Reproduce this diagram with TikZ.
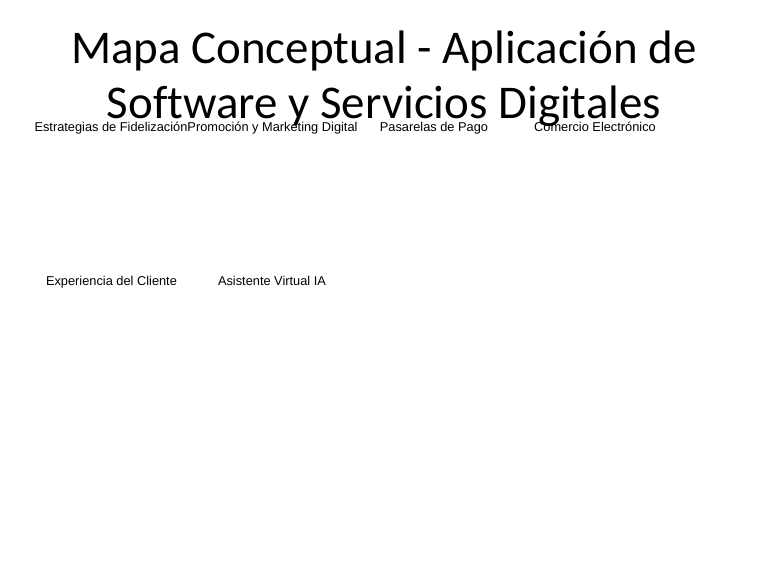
\documentclass[tikz,border=0pt]{standalone}
\usepackage{fontspec}
\setmainfont{Liberation Sans}
\newfontfamily\titlefont[Ligatures=NoCommon]{Carlito}
\begin{document}
\begin{tikzpicture}[x=0.9375pt,y=-0.9375pt,
	concept/.style={anchor=base,inner sep=0pt,font=\fontsize{12}{14}\selectfont},
	maptitle/.style={anchor=base,align=center,inner sep=0pt,font=\titlefont\fontsize{44}{52}\selectfont}]
		\useasboundingbox (0,0) rectangle (768,576);
		\node[maptitle] (titulo) at (384,119) {Mapa Conceptual - Aplicación de\\Software y Servicios Digitales};
		\node[concept] (estrategias) at (111,132) {Estrategias de Fidelización};
		\node[concept] (promocion) at (272.5,132) {Promoción y Marketing Digital};
		\node[concept] (pasarelas) at (434,132) {Pasarelas de Pago};
		\node[concept] (comercio) at (595,132) {Comercio Electrónico};
		\node[concept] (experiencia) at (111.5,285) {Experiencia del Cliente};
		\node[concept] (asistente) at (272,285) {Asistente Virtual IA};
		\end{tikzpicture}
\end{document}
